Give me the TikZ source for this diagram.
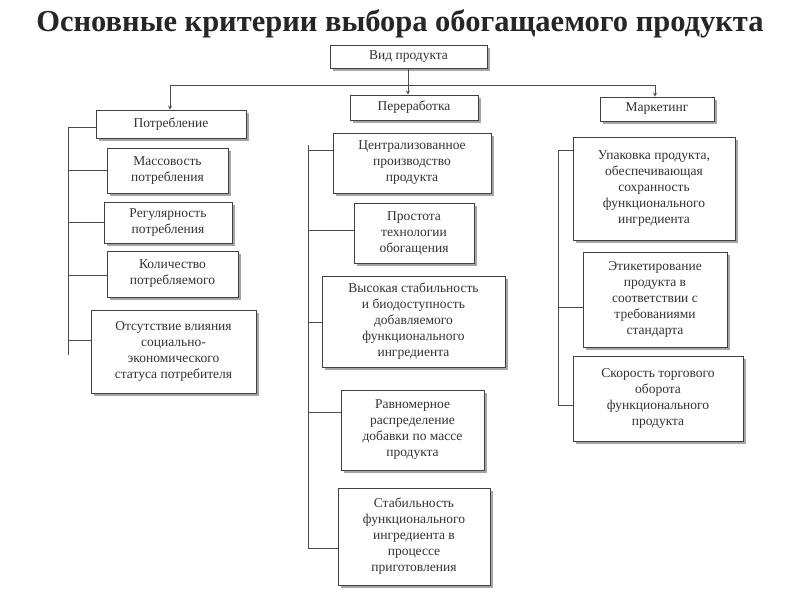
\documentclass[tikz,border=0pt]{standalone}
\usepackage{fontspec}
\setmainfont{Liberation Serif}
\begin{document}
\begin{tikzpicture}[x=1pt,y=-1pt,
 bx/.style={draw=black!75,line width=0.8pt,fill=white,align=center,font=\fontsize{13.5}{16}\selectfont,text=black!80,inner sep=2pt,
  preaction={fill=black!35,transform canvas={shift={(2.5pt,-2.5pt)}}}},
 ln/.style={draw=black!70,line width=0.8pt},
 ar/.style={ln,-stealth}]
\useasboundingbox (0,0) rectangle (800,600);
\fill[white] (0,0) rectangle (800,600);
\node[font=\fontsize{30.5}{33}\bfseries,text=black!85] (title) at (400,24) {Основные критерии выбора обогащаемого продукта};
\def\B#1#2#3#4#5#6{\node[bx,minimum width={#4-#2},minimum height={#5-#3}] (#1) at ({(#2+#4)/2},{(#3+#5)/2}) {#6};}
\B{vid}{330}{45}{487}{68}{Вид продукта}
\B{potr}{96}{110}{246}{138}{Потребление}
\B{per}{350}{95}{478}{120}{Переработка}
\B{mark}{600}{97}{714}{121}{Маркетинг}
\B{a1}{107}{148}{228}{193}{Массовость\\потребления}
\B{a2}{104}{202}{232}{243}{Регулярность\\потребления}
\B{a3}{107}{251}{238}{297}{Количество\\потребляемого}
\B{a4}{91}{310}{256}{393}{Отсутствие влияния\\социально-\\экономического\\статуса потребителя}
\B{b1}{333}{133}{491}{193}{Централизованное\\производство\\продукта}
\B{b2}{354}{203}{474}{263}{Простота\\технологии\\обогащения}
\B{b3}{322}{276}{505}{367}{Высокая стабильность\\и биодоступность\\добавляемого\\функционального\\ингредиента}
\B{b4}{341}{390}{484}{470}{Равномерное\\распределение\\добавки по массе\\продукта}
\B{b5}{338}{488}{490}{585}{Стабильность\\функционального\\ингредиента в\\процессе\\приготовления}
\B{c1}{573}{137}{735}{240}{Упаковка продукта,\\обеспечивающая\\сохранность\\функционального\\ингредиента}
\B{c2}{583}{252}{727}{347}{Этикетирование\\продукта в\\соответствии с\\требованиями\\стандарта}
\B{c3}{573}{356}{743}{441}{Скорость торгового\\оборота\\функционального\\продукта}
\coordinate (h) at (408,85);
\draw[ln] (vid.south -| h) -- (h);
\draw[ln] (170,85) -- (655,85);
\draw[ar] (170,85) -- (potr.north -| 170,0);
\draw[ar] (h) -- (per.north -| h);
\draw[ar] (655,85) -- (mark.north -| 655,0);
\draw[ln] (68,127) -- (68,355);
\draw[ln] (68,127) -- (potr.west |- 0,127);
\foreach \n/\y in {a1/170,a2/222,a3/275,a4/340} \draw[ln] (68,\y) -- (\n.west |- 0,\y);
\draw[ln] (308,145) -- (308,548);
\foreach \n/\y in {b1/150,b2/230,b3/322,b4/412,b5/548} \draw[ln] (308,\y) -- (\n.west |- 0,\y);
\draw[ln] (558,150) -- (558,405);
\foreach \n/\y in {c1/150,c2/307,c3/405} \draw[ln] (558,\y) -- (\n.west |- 0,\y);
\end{tikzpicture}
\end{document}
